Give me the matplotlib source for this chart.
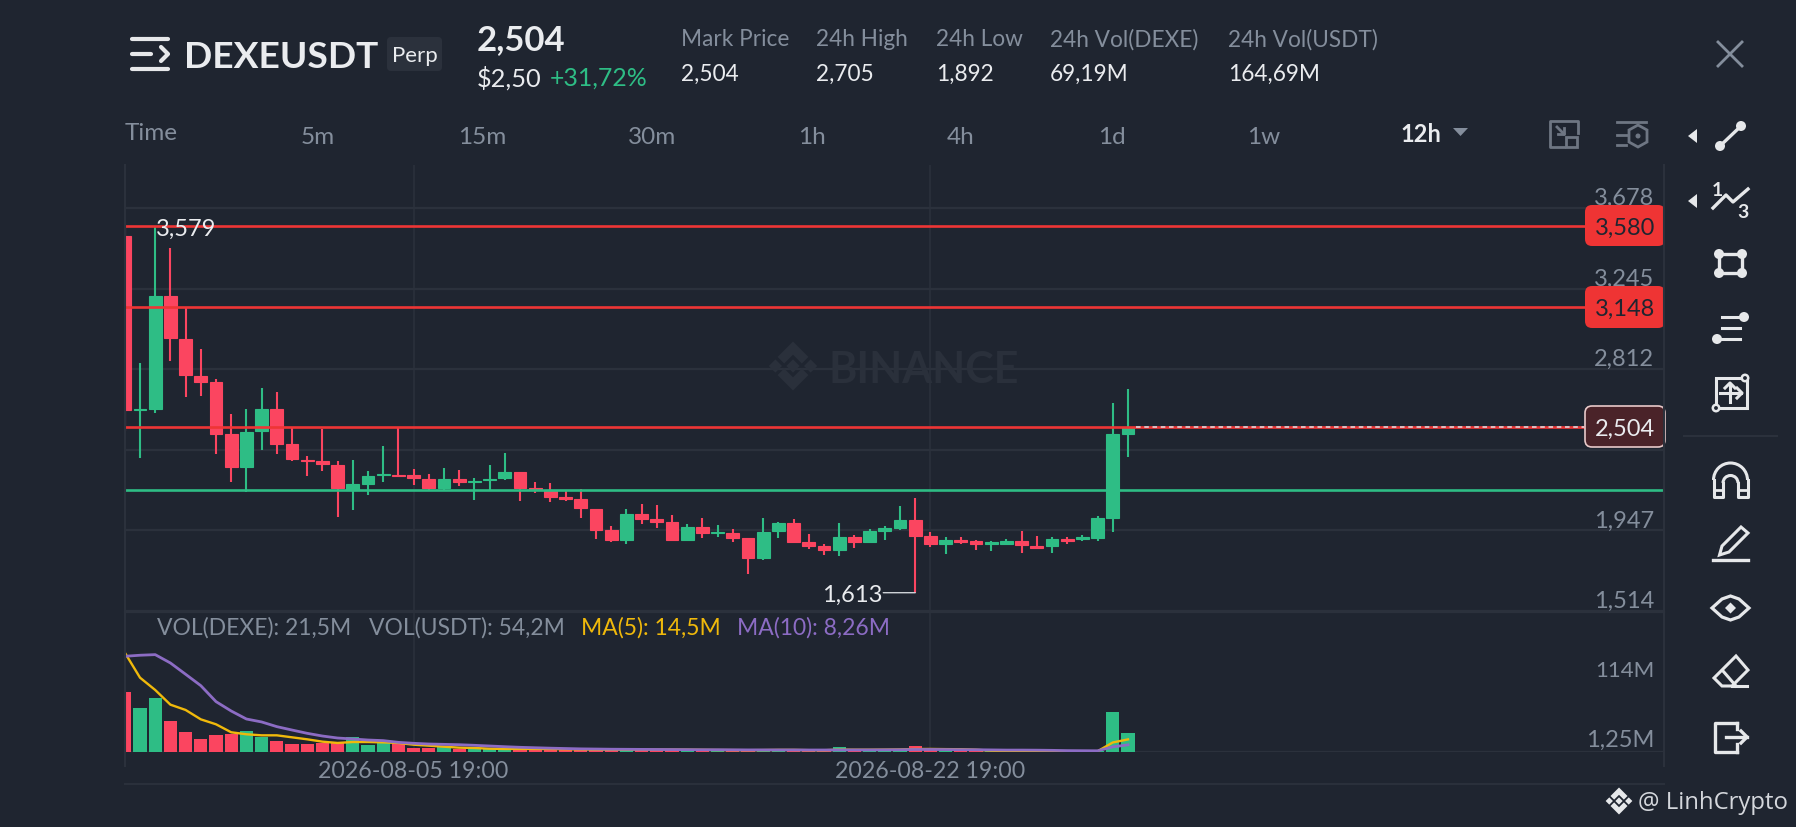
import matplotlib
matplotlib.use("Agg")
import matplotlib.pyplot as plt
from matplotlib.patches import FancyBboxPatch, Polygon, Circle, Rectangle, Arc

plt.rcParams['font.family'] = ['Lato', 'DejaVu Sans']

# ---------- data ----------
opens = [3526, 2594, 2596, 3204, 2975, 2778, 2744, 2465, 2288, 2479,
         2596, 2411, 2327, 2317, 2299, 2166, 2198, 2245, 2247, 2247,
         2225, 2177, 2224, 2206, 2216, 2227, 2261, 2175, 2166, 2127,
         2118, 2064, 1949, 1894, 2033, 2010, 1994, 1895, 1965, 1931,
         1931, 1904, 1799, 1942, 1988, 1885, 1863, 1840, 1910, 1886,
         1945, 1962, 2003, 1917, 1872, 1894, 1890, 1877, 1877, 1890,
         1861, 1863, 1903, 1901, 1908, 2013, 2462]
closes = [2592, 2598, 3204, 2977, 2780, 2746, 2467, 2288, 2476, 2596,
          2413, 2331, 2320, 2302, 2173, 2198, 2241, 2250, 2240, 2227,
          2177, 2222, 2206, 2213, 2224, 2261, 2173, 2170, 2127, 2116,
          2068, 1948, 1894, 2033, 2008, 1994, 1895, 1967, 1931, 1940,
          1904, 1799, 1938, 1988, 1885, 1865, 1840, 1910, 1886, 1942,
          1962, 2003, 1917, 1872, 1895, 1883, 1872, 1883, 1890, 1867,
          1854, 1903, 1890, 1911, 2013, 2462, 2504]
highs = [3580, 2843, 3579, 3463, 3141, 2919, 2757, 2574, 2599, 2712,
         2690, 2503, 2349, 2492, 2320, 2327, 2265, 2399, 2501, 2277,
         2250, 2283, 2274, 2229, 2297, 2360, 2261, 2206, 2202, 2163,
         2172, 2064, 1970, 2064, 2087, 2083, 2029, 1983, 2015, 1976,
         1956, 1908, 2013, 1994, 2008, 1926, 1876, 1987, 1922, 1953,
         1972, 2078, 2119, 1940, 1910, 1911, 1897, 1892, 1902, 1945,
         1917, 1913, 1913, 1922, 2022, 2632, 2705]
lows = [2479, 2334, 2578, 2857, 2664, 2671, 2356, 2207, 2154, 2377,
        2356, 2317, 2241, 2266, 2018, 2055, 2136, 2207, 2240, 2193,
        2163, 2166, 2184, 2113, 2157, 2216, 2104, 2148, 2102, 2105,
        2014, 1903, 1885, 1876, 1979, 1958, 1890, 1890, 1906, 1913,
        1886, 1716, 1788, 1904, 1881, 1845, 1815, 1809, 1852, 1883,
        1897, 1949, 1613, 1856, 1820, 1872, 1842, 1836, 1868, 1827,
        1854, 1827, 1877, 1892, 1888, 1940, 2341]
volumes = [69, 50.3, 61.8, 35.7, 23, 14.6, 20, 21.1, 23.8, 16.9,
           12.7, 8.8, 9.2, 10, 10.4, 16.9, 8.1, 10.8, 10.4, 5,
           5, 6.1, 3.8, 3.5, 3.1, 3.5, 3.8, 3.5, 3.1, 2.3,
           2.7, 2.7, 2.7, 3.1, 2.7, 2.7, 2.7, 2.3, 2.3, 1.9,
           1.9, 2.3, 2.7, 2.7, 2.3, 1.5, 1.5, 5.8, 1.5, 2.3,
           2.3, 2.3, 6.5, 2.7, 1.5, 1.2, 1.2, 0.8, 0.8, 1.2,
           0.8, 0.8, 0.8, 0.8, 1.5, 45.7, 21.5]
ma5 = [114.4, 85.6, 71.4, 54.5, 48.4, 37.6, 31.9, 22.7, 20.4, 19.2,
       19.2, 16.9, 14.6, 11.9, 10.4, 11.5, 11.5, 11.1, 10.4, 8.4,
       7.3, 6.1, 5, 4.6, 3.8, 3.5, 3.5, 3.5, 3.4, 3.2,
       3.0, 2.8, 2.7, 2.7, 2.8, 2.8, 2.8, 2.7, 2.5, 2.3,
       2.2, 2.1, 2.2, 2.4, 2.4, 2.1, 2.0, 2.7, 2.6, 2.6,
       2.7, 2.9, 3.4, 3.5, 3.3, 3.2, 2.6, 1.5, 1.1, 1.0,
       1.0, 0.9, 0.9, 0.8, 0.9, 11, 14.5]
ma10 = [110.2, 111.4, 112.1, 102.5, 89.5, 76.4, 58, 47.2, 38, 34.6,
        29.2, 25.3, 21.5, 18.4, 16.1, 15, 13.8, 13.1, 11.1, 10,
        9.2, 8.8, 8.4, 7.7, 6.9, 6.1, 5.4, 4.9, 4.4, 4.0,
        3.6, 3.4, 3.2, 3.1, 3.0, 2.9, 2.8, 2.7, 2.6, 2.6,
        2.5, 2.4, 2.4, 2.4, 2.4, 2.3, 2.3, 2.4, 2.4, 2.4,
        2.5, 2.6, 2.9, 2.9, 2.8, 2.7, 2.6, 2.4, 2.2, 2.2,
        2.1, 1.9, 1.6, 1.5, 1.4, 5.9, 8.26]
price_ticks = [3678, 3245, 2812, 2379, 1947, 1514]
price_labels = ['3,678', '3,245', '2,812', '', '1,947', '1,514']
red_levels = [3580, 3148, 2504]
green_level = 2166
date_idx = [19, 53]
date_labels = ['2026-08-05 19:00', '2026-08-22 19:00']
intervals = ['5m', '15m', '30m', '1h', '4h', '1d', '1w']
stat_heads = ['Mark Price', '24h High', '24h Low', '24h Vol(DEXE)', '24h Vol(USDT)']
stat_vals = ['2,504', '2,705', '1,892', '69,19M', '164,69M']

# ---------- style ----------
BG = '#1f2530'; GRID = '#2b313c'; UP = '#2ebd85'; DN = '#fb4560'
LINE_R = '#ee3535'; GRAY = '#848e9c'; WHITE = '#eaecef'; ICON = '#e6e8ea'; DIM = '#6e7683'
W, H = 1796, 828
TICK = 17
fig = plt.figure(figsize=(W / 100, H / 100), dpi=100, facecolor=BG)

def axes_px(x0, y0, x1, y1, **kw):
    return fig.add_axes([x0 / W, 1 - y1 / H, (x1 - x0) / W, (y1 - y0) / H], **kw)

L, R = 125, 1664
TOP, MID, BASE = 165.6, 612.9, 753
ax = axes_px(L, TOP, R, MID, facecolor='none')
av = axes_px(L, MID, R, BASE, facecolor='none', sharex=ax)
ov = axes_px(0, 0, W, H, facecolor='none', zorder=10)
ov.set_xlim(0, W); ov.set_ylim(H, 0); ov.axis('off')

idx = list(range(len(opens)))
ax.set_xlim(0.013, 101.26)
ax.set_ylim(1510, 3910)
av.set_ylim(0, 161.3)
for a in (ax, av):
    for s in a.spines.values():
        s.set_visible(False)
    a.tick_params(length=0)
    a.set_yticks([])
    for d in date_idx:
        a.axvline(d, color=GRID, lw=1.2, zorder=1)

ax.set_yticks(price_ticks)
ax.set_yticklabels([])
ax.grid(axis='y', color=GRID, lw=1.6, zorder=1)
ax.tick_params(labelbottom=False)
for v, lab in zip(price_ticks, price_labels):
    ax.annotate(lab, xy=(1, v), xycoords=ax.get_yaxis_transform(), xytext=(-10, 0),
                textcoords='offset pixels', ha='right', va='bottom', color=GRAY, fontsize=TICK, zorder=2)

# candles
for i, o, c, h, l in zip(idx, opens, closes, highs, lows):
    col = UP if c >= o else DN
    ax.vlines(i, l, h, color=col, lw=1.5, zorder=3)
    ax.bar(i, abs(c - o), bottom=min(o, c), width=0.84, color=col, edgecolor=col, lw=0.8, zorder=4)

# levels
for v in red_levels:
    ax.axhline(v, color=LINE_R, lw=1.9, zorder=5)
ax.axhline(green_level, color=UP, lw=1.9, zorder=5)
ax.hlines(red_levels[2] - 4, idx[-1] + 0.5, 96, color='#dfe3e8', lw=1.1, linestyles=(0, (3, 2.4)), zorder=6)

# extremes
ax.annotate('3,579', xy=(2.05, highs[2]), xytext=(0, -2), textcoords='offset pixels',
            color=WHITE, fontsize=TICK, ha='left', va='center', zorder=7)
ax.annotate('', xy=(52, lows[52]), xytext=(-23, 0), textcoords='offset points', zorder=7,
            arrowprops=dict(arrowstyle='-', color='#cfd3d8', lw=1.0, shrinkA=0, shrinkB=0))
ax.annotate('1,613', xy=(52, lows[52]), xytext=(-33, -2), textcoords='offset pixels',
            color=WHITE, fontsize=TICK, ha='right', va='center', zorder=7)

# volume
vcols = [UP if c >= o else DN for o, c in zip(opens, closes)]
av.bar(idx, volumes, width=0.87, color=vcols, lw=0, zorder=3)
av.plot(idx, ma5, color='#f0b90b', lw=1.7, zorder=5)
av.plot(idx, ma10, color='#8c6cc4', lw=2.0, zorder=6)
av.set_xticks(date_idx)
av.set_xticklabels(date_labels, color=GRAY, fontsize=16.7)
av.tick_params(axis='x', pad=5.5)
av.axhline(0, color=GRID, lw=1.6, zorder=2)
ax.tick_params(axis='x', length=0)

# frame lines
ov.plot([L, L], [TOP, 767], color=GRID, lw=1.5)
ov.plot([R, R], [TOP, 767], color=GRID, lw=1.5)
ov.plot([L, R], [MID, MID], color=GRID, lw=1.6)
ov.plot([L, R], [785.5, 785.5], color=GRID, lw=1.4)

# vol legend
for x, s, c in [(157, 'VOL(DEXE): 21,5M', GRAY), (369, 'VOL(USDT): 54,2M', GRAY),
                (581, 'MA(5): 14,5M', '#f0b90b'), (737, 'MA(10): 8,26M', '#8c6cc4')]:
    ov.text(x, 628, s, color=c, fontsize=16.5, ha='left', va='center')
ov.text(1654, 671, '114M', color=GRAY, fontsize=16, ha='right', va='center')
ov.text(1654, 740, '1,25M', color=GRAY, fontsize=TICK, ha='right', va='center')

# badges
def badge(y0, y1, fc, ec, txt, tc, lw=0):
    ov.add_patch(FancyBboxPatch((1585, y0), 80, y1 - y0, boxstyle='round,pad=0,rounding_size=7',
                                fc=fc, ec=ec, lw=lw))
    ov.text(1625, (y0 + y1) / 2 + 1.5, txt, color=tc, fontsize=TICK, ha='center', va='center')
badge(206, 247, '#ef3434', '#ef3434', '3,580', '#1f2530')
badge(287, 329, '#ef3434', '#ef3434', '3,148', '#1f2530')
badge(407, 448, '#4a2329', '#e8c9c9', '2,504', WHITE, 1.2)

# logo used by watermark and credit
def logo(cx, cy, s, col, z=0):
    def diamond(x, y, r):
        ov.add_patch(Polygon([(x - r, y), (x, y - r), (x + r, y), (x, y + r)], fc=col, ec='none', zorder=z))
    diamond(cx, cy, 0.27 * s)
    diamond(cx - 0.72 * s, cy, 0.27 * s)
    diamond(cx + 0.72 * s, cy, 0.27 * s)
    for sgn in (-1, 1):
        ov.add_patch(Polygon([(cx, cy + sgn * s), (cx + 0.63 * s, cy + sgn * 0.37 * s),
                              (cx + 0.36 * s, cy + sgn * 0.10 * s),
                              (cx, cy + sgn * 0.46 * s), (cx - 0.36 * s, cy + sgn * 0.10 * s),
                              (cx - 0.63 * s, cy + sgn * 0.37 * s)], fc=col, ec='none', zorder=z))

# watermark
wm = '#2a303b'
logo(793, 367, 24.5, wm)
ov.text(829, 370, 'BINANCE', color=wm, fontsize=31, fontweight='bold', ha='left', va='center', zorder=0)

# header
for y in (40, 70):
    ov.plot([132, 168], [y, y], color=ICON, lw=3, solid_capstyle='round')
ov.plot([132, 151], [55, 55], color=ICON, lw=3, solid_capstyle='round')
ov.plot([161, 168, 161], [48, 55, 62], color=ICON, lw=3, solid_capstyle='round')
ov.text(184, 57, 'DEXEUSDT', color=WHITE, fontsize=26.7, fontweight='bold', ha='left', va='center')
ov.add_patch(FancyBboxPatch((387, 38), 55, 34, boxstyle='round,pad=0,rounding_size=4', fc='#2b313c', ec='none'))
ov.text(414.5, 55.5, 'Perp', color=WHITE, fontsize=16, ha='center', va='center')
ov.text(477, 40, '2,504', color=WHITE, fontsize=25, fontweight='bold', ha='left', va='center')
ov.text(477, 78, '$2,50', color=WHITE, fontsize=18.3, ha='left', va='center')
ov.text(550, 78, '+31,72%', color=UP, fontsize=17.9, ha='left', va='center')
for x, a, b in zip([681, 816, 936, 1050, 1228], stat_heads, stat_vals):
    ov.text(x, 40, a, color=GRAY, fontsize=16.3, ha='left', va='center')
    ov.text(x, 74, b, color=WHITE, fontsize=16.3, ha='left', va='center')
ov.plot([1718, 1742], [43, 67], color=GRAY, lw=2)
ov.plot([1718, 1742], [67, 43], color=GRAY, lw=2)

# interval row
ov.text(125, 134, 'Time', color=GRAY, fontsize=17.5, ha='left', va='center')
for x, s in zip([318, 482, 652, 812, 961, 1112, 1264], intervals):
    ov.text(x, 137, s, color=GRAY, fontsize=17.5, ha='center', va='center')
ov.text(1421, 134, '12h', color=WHITE, fontsize=17, fontweight='bold', ha='center', va='center')
ov.add_patch(Polygon([(1453, 129), (1468, 129), (1460.5, 137)], fc=GRAY, ec='none'))

# top-right small icons
ov.plot([1578, 1578, 1550, 1550, 1564], [134, 122, 122, 148, 148], color=DIM, lw=2)
ov.add_patch(Rectangle((1566, 138), 11, 10, fc='none', ec=DIM, lw=2))
ov.plot([1557, 1564], [128, 135], color=DIM, lw=2)
ov.plot([1558, 1564, 1564], [135, 135, 129], color=DIM, lw=2)
ov.plot([1617, 1646], [123, 123], color=DIM, lw=2)
ov.plot([1617, 1628], [136, 136], color=DIM, lw=2)
ov.plot([1617, 1626], [146, 146], color=DIM, lw=2)
ov.add_patch(Polygon([(1638, 126), (1647, 131), (1647, 143), (1638, 148), (1629, 143), (1629, 131)],
                     fc='none', ec=DIM, lw=2))
ov.add_patch(Circle((1638, 137), 2.5, fc=DIM, ec='none'))

# toolbar
def dot(x, y, r=4.5, fc=ICON):
    ov.add_patch(Circle((x, y), r, fc=fc, ec='none'))
for y in (137, 202):
    ov.add_patch(Polygon([(1697, y - 7), (1697, y + 7), (1688, y)], fc=ICON, ec='none'))
# line
ov.plot([1720, 1741], [147, 127], color=ICON, lw=2.4); dot(1720, 147, 5); dot(1741, 127, 5)
# fib
ov.plot([1713, 1726, 1733, 1748], [209, 196, 203, 190], color=ICON, lw=2.4)
ov.text(1717, 191, '1', color=ICON, fontsize=14, fontweight='bold', ha='center', va='center')
ov.text(1743, 213, '3', color=ICON, fontsize=14, fontweight='bold', ha='center', va='center')
# rect
ov.add_patch(Rectangle((1719, 255), 23, 19, fc='none', ec=ICON, lw=2.4))
for p in [(1719, 255), (1742, 255), (1719, 274), (1742, 274)]:
    dot(*p, 5)
# parallel
ov.plot([1722, 1744], [318, 318], color=ICON, lw=2.2); dot(1744, 318, 5)
ov.plot([1722, 1740], [329, 329], color=ICON, lw=2.2)
ov.plot([1717, 1740], [340, 340], color=ICON, lw=2.2); dot(1717, 340, 5)
# measure
ov.add_patch(Rectangle((1716, 379), 31, 30, fc='none', ec=ICON, lw=2.2))
ov.add_patch(Circle((1745, 379), 3.2, fc=BG, ec=ICON, lw=1.8))
ov.add_patch(Circle((1716, 409), 3.2, fc=BG, ec=ICON, lw=1.8))
ov.plot([1730, 1730], [385, 403], color=ICON, lw=2.2)
ov.plot([1720, 1741], [394, 394], color=ICON, lw=2.2)
ov.plot([1725, 1730, 1735], [389, 384, 389], color=ICON, lw=2.2)
ov.plot([1737, 1742, 1737], [389, 394, 399], color=ICON, lw=2.2)
ov.plot([1684, 1777], [437, 437], color=GRID, lw=1.5)
# magnet
ov.add_patch(Arc((1730.5, 481), 34, 34, theta1=180, theta2=360, color=ICON, lw=2.2))
ov.add_patch(Arc((1730.5, 484), 15, 15, theta1=180, theta2=360, color=ICON, lw=2.2))
ov.plot([1713.5, 1713.5, 1723, 1723], [481, 498, 498, 484], color=ICON, lw=2.2)
ov.plot([1738, 1738, 1747.5, 1747.5], [484, 498, 498, 481], color=ICON, lw=2.2)
ov.plot([1713.5, 1723], [491, 491], color=ICON, lw=2.0)
ov.plot([1738, 1747.5], [491, 491], color=ICON, lw=2.0)
# pencil
ov.add_patch(Polygon([(1719.5, 556), (1722, 547), (1741, 528), (1748, 534), (1729, 553)], fc='none', ec=ICON, lw=2.2))
ov.plot([1713, 1748], [561, 561], color=ICON, lw=2.4)
# eye
ov.add_patch(Polygon([(1712, 609), (1722, 600), (1730.5, 597), (1739, 600), (1749, 609),
                      (1739, 618), (1730.5, 621), (1722, 618)], fc='none', ec=ICON, lw=2.3))
ov.add_patch(Polygon([(1725, 609), (1730.5, 603.5), (1736, 609), (1730.5, 614.5)], fc=ICON, ec='none'))
# eraser
ov.add_patch(Polygon([(1736, 657), (1748, 671), (1732, 687), (1722, 687), (1714, 679)], fc='none', ec=ICON, lw=2.2))
ov.plot([1723, 1736], [672, 687], color=ICON, lw=2.2)
ov.plot([1732, 1747], [687, 687], color=ICON, lw=2.2)
# exit
ov.plot([1737, 1714.5, 1714.5, 1737], [723.5, 723.5, 752.5, 752.5], color=ICON, lw=2.4)
ov.plot([1737, 1737], [723.5, 730], color=ICON, lw=2.4)
ov.plot([1737, 1737], [745, 752.5], color=ICON, lw=2.4)
ov.plot([1726, 1747], [738, 738], color=ICON, lw=2.4)
ov.plot([1741, 1747, 1741], [732, 738, 744], color=ICON, lw=2.4)

# credit
logo(1619, 802, 13.5, ICON, z=3)
ov.text(1638, 803, '@ LinhCrypto', color='#d4d7dc', fontsize=17.2, family=['Open Sans', 'DejaVu Sans'],
        ha='left', va='center')

fig.savefig('out.png', dpi=100, facecolor=BG)
